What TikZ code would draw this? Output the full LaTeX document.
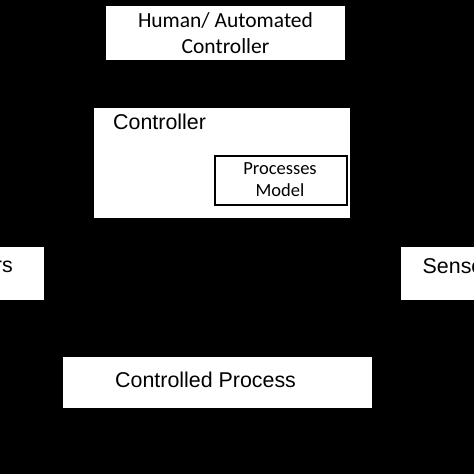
\documentclass[tikz,border=0pt]{standalone}
\usepackage{fontspec}
\setmainfont{Liberation Sans}
\newfontfamily\calfont{Carlito}
\begin{document}
\begin{tikzpicture}[x=1pt,y=-1pt,
  wbox/.style={fill=white, draw=none, inner sep=0pt, anchor=north west},
  arialtext/.style={font=\fontsize{21.4}{25}\selectfont, inner sep=0pt, text=black},
  caltext/.style={font=\calfont\fontsize{21.5}{26}\selectfont, align=center, inner sep=0pt, text=black},
  pmtext/.style={font=\calfont\fontsize{18.5}{22}\selectfont, align=center, inner sep=0pt, text=black}]
\useasboundingbox (0,0) rectangle (474,474);
\clip (0,0) rectangle (474,474);
\fill[black] (0,0) rectangle (474,474);
% Human / Automated Controller
\node[wbox, minimum width=239pt, minimum height=54pt] (hac) at (106,6) {};
\node[caltext] (hactext) at (225.5,33.5) {Human/ Automated\\Controller};
% Controller
\node[wbox, minimum width=256pt, minimum height=110pt] (ctrl) at (94,108) {};
\node[arialtext, anchor=base west] (ctrltext) at (113,129) {Controller};
% Processes Model
\node[wbox, draw=black, line width=2pt, minimum width=132pt, minimum height=49pt] (pm) at (214,155) {};
\node[pmtext] (pmtext) at (280,180) {Processes\\Model};
% Actuators
\node[wbox, minimum width=64pt, minimum height=53pt] (act) at (-20,247) {};
\node[arialtext, anchor=base east] (acttext) at (13,272) {Actuators};
% Sensors
\node[wbox, minimum width=93pt, minimum height=53pt] (sen) at (401,247) {};
\node[arialtext, anchor=base west] (sentext) at (422.5,273) {Sensors};
% Controlled Process
\node[wbox, minimum width=309pt, minimum height=51pt] (cp) at (63,357) {};
\node[arialtext, anchor=base west] (cptext) at (115,387) {Controlled Process};
\end{tikzpicture}
\end{document}
